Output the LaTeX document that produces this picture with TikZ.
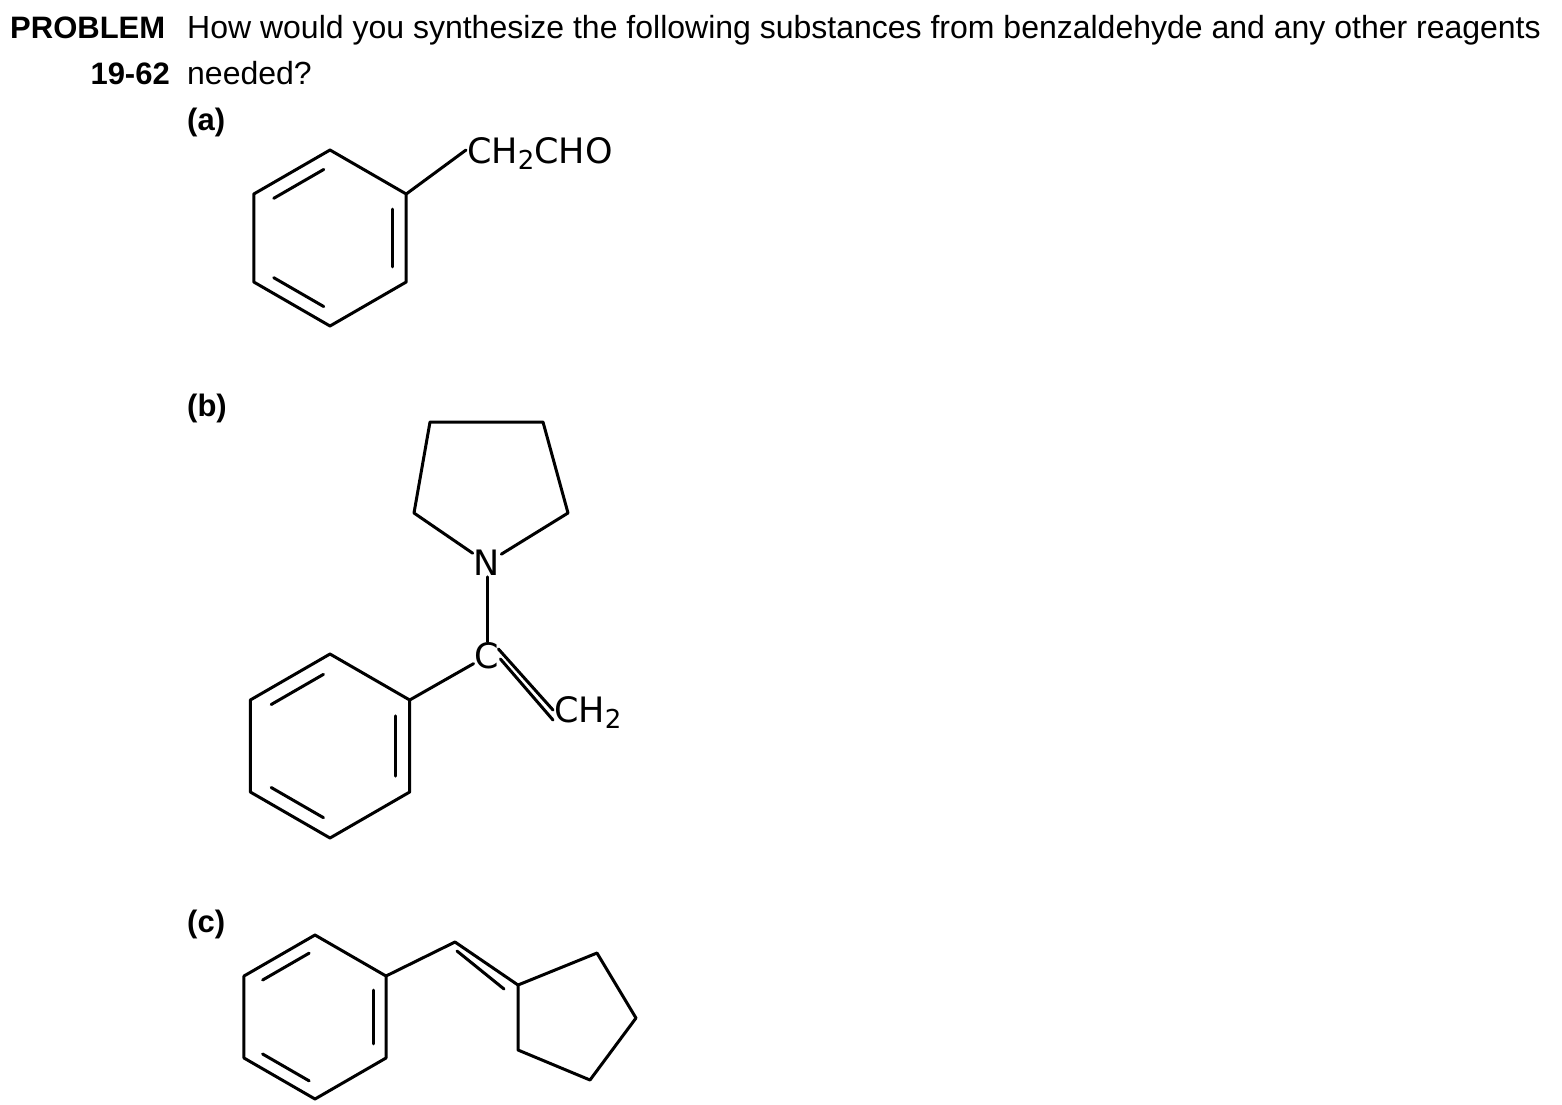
\documentclass[tikz,border=0pt]{standalone}
\usepackage{fontspec}
\setmainfont{Liberation Sans}
\newfontfamily\chem{DejaVu Sans}
\usetikzlibrary{calc}
\newcommand{\subtwo}{\raisebox{-6pt}{\fontsize{26}{26}\selectfont 2}}
\begin{document}
\begin{tikzpicture}[x=1pt,y=-1pt,
  bd/.style={line width=3pt,line cap=round,line join=round},
  txt/.style={anchor=base west,inner sep=0pt,font=\fontsize{32}{36}\selectfont},
  bt/.style={txt,font=\bfseries\fontsize{31}{36}\selectfont},
  atm/.style={inner sep=1pt,font=\chem\fontsize{35}{40}\selectfont}]
\useasboundingbox (0,0) rectangle (1562,1104);
\node[bt] (p) at (10,38) {PROBLEM};
\node[bt,anchor=base east] (n) at (170,84) {19-62};
\node[txt] (q1) at (187,38) {How would you synthesize the following substances from benzaldehyde and any other reagents};
\node[txt] (q2) at (187,84) {needed?};
\node[bt] (la) at (187,130) {(a)};
\node[bt] (lb) at (187,416) {(b)};
\node[bt] (lc) at (187,932) {(c)};
\foreach \cx/\cy/\r in {330/238/88, 330/746/92, 315/1017/82}{
  \begin{scope}[shift={(\cx,\cy)}]
  \draw[bd] (90:\r)--(30:\r)--(-30:\r)--(-90:\r)--(-150:\r)--(150:\r)--cycle;
  \coordinate (c0) at (0,0);
  \foreach \a/\b in {90/150, 30/-30, -90/-150}{
    \draw[bd] ($($(c0)!0.82!(\a:\r)$)!0.1!($(c0)!0.82!(\b:\r)$)$) -- ($($(c0)!0.82!(\b:\r)$)!0.1!($(c0)!0.82!(\a:\r)$)$);}
  \end{scope}}
% (a)
\coordinate (a1) at ($(330,238)+(-30:88)$);
\node[atm,anchor=west] (cho) at (466,154) {CH\subtwo CHO};
\draw[bd] (a1) -- ([yshift=4pt]cho.west);
% (b)
\node[atm] (N) at (487,563) {N};
\coordinate (r1) at (414,513); \coordinate (r2) at (430,422);
\coordinate (r3) at (543,422); \coordinate (r4) at (568,513);
\draw[bd] (N) -- (r1) -- (r2) -- (r3) -- (r4) -- (N);
\node[atm] (C) at (487,656) {C};
\draw[bd] (N) -- (C);
\coordinate (b1) at ($(330,746)+(-30:92)$);
\draw[bd] (b1) -- (C);
\node[atm,anchor=west] (ch2) at (553,712) {CH\subtwo};
\draw[bd] ([yshift=-3pt]C.east) -- ([yshift=-8pt]ch2.west);
\draw[bd] ([yshift=7pt,xshift=-2pt]C.east) -- ([yshift=2pt]ch2.west);
% (c)
\coordinate (c1) at ($(315,1017)+(-30:82)$);
\coordinate (ce) at (455,942);
\coordinate (p1) at (518,985); \coordinate (p2) at (597,953);
\coordinate (p3) at (636,1018); \coordinate (p4) at (590,1080);
\coordinate (p5) at (518,1050);
\draw[bd] (c1) -- (ce) -- (p1);
\draw[bd] (p1) -- (p2) -- (p3) -- (p4) -- (p5) -- cycle;
\draw[bd] ($(ce)+(2,9)$) -- ($(p1)+(-14,4)$);
\end{tikzpicture}
\end{document}
